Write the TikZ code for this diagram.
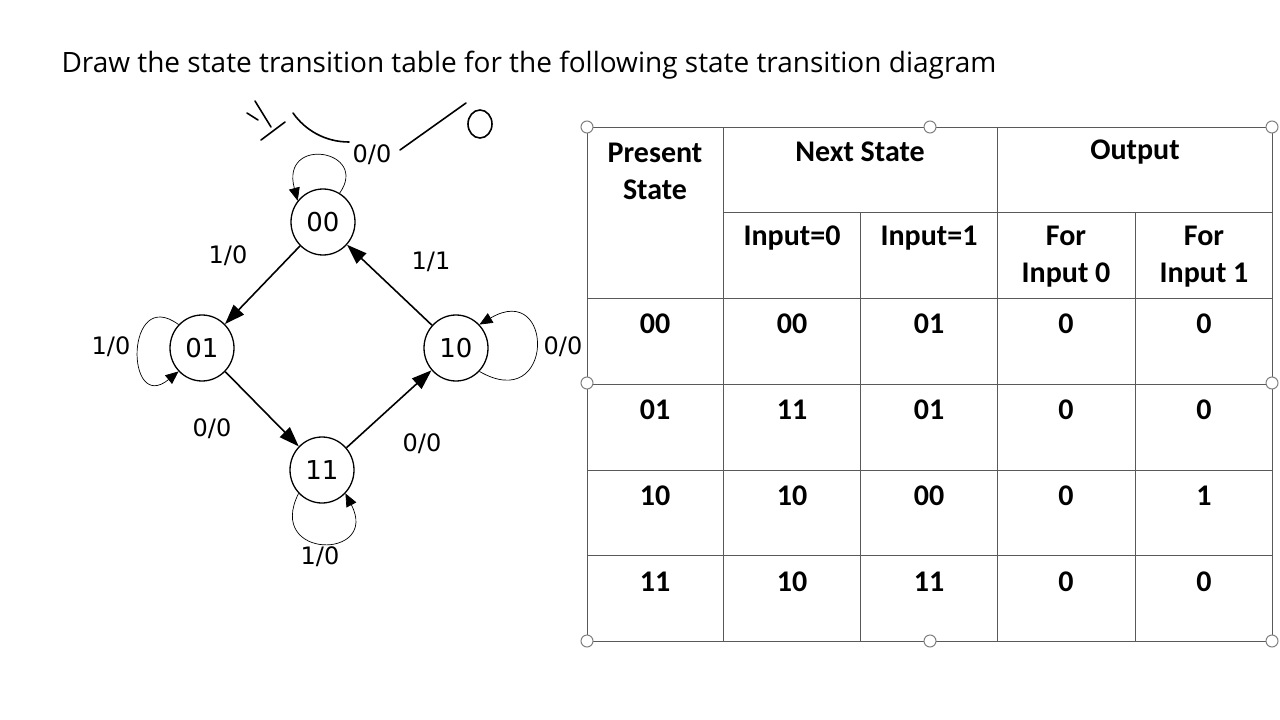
\documentclass[tikz,border=0pt]{standalone}
\usepackage{fontspec}
\setmainfont{Open Sans}
\newfontfamily\tabfont{Carlito}
\newfontfamily\diafont{DejaVu Sans}
\usetikzlibrary{arrows.meta,shapes.geometric}
\begin{document}
\begin{tikzpicture}[x=1pt,y=-1pt,
  st/.style={draw,line width=1.3pt,ellipse,minimum width=64pt,minimum height=66pt,inner sep=0pt,font=\diafont\fontsize{26}{26}\selectfont},
  tr/.style={line width=1.6pt,-{Triangle[length=20pt,width=14pt]}},
  lp/.style={line width=0.7pt,-{Triangle[length=13pt,width=11pt]}},
  lb/.style={font=\diafont\fontsize{24}{24}\selectfont},
  tc/.style={font=\tabfont\bfseries\fontsize{30}{37}\selectfont,align=center},
  hd/.style={draw=gray,fill=white,circle,inner sep=0pt,minimum size=12pt,line width=1pt},
  hand/.style={line width=1.6pt,line cap=round}]
\useasboundingbox (0,0) rectangle (1280,720);
\fill[white] (0,0) rectangle (1280,720);
\node[anchor=west,font=\fontsize{28}{32}\selectfont] (title) at (58,65) {Draw the state transition table for the following state transition diagram};
% states
\node[st] (s00) at (323,222) {00};
\node[st] (s01) at (202,348) {01};
\node[st] (s10) at (456,348) {10};
\node[st] (s11) at (322,470) {11};
\draw[tr] (s00) -- (s01);
\draw[tr] (s01) -- (s11);
\draw[tr] (s11) -- (s10);
\draw[tr] (s10) -- (s00);
\draw[lp] (s00.60) .. controls (370,150) and (280,135) .. (s00.140);
\draw[lp] (s01.135) .. controls (125,285) and (125,415) .. (s01.-135);
\draw[lp] (s10.-45) .. controls (555,415) and (555,280) .. (s10.45);
\draw[lp] (s11.-135) .. controls (265,560) and (380,560) .. (s11.-45);
\node[lb] (l1) at (228,256) {1/0};
\node[lb] (l2) at (431,262) {1/1};
\node[lb] (l3) at (212,429) {0/0};
\node[lb] (l4) at (422,444) {0/0};
\node[lb] (l5) at (111,347) {1/0};
\node[lb] (l6) at (563,347) {0/0};
\node[lb] (l7) at (320,557) {1/0};
\node[lb] (l8) at (372,155) {0/0};
% hand annotation
\draw[hand] (247,113) -- (258,120) (255,101) -- (271,127) (261,140) -- (285,122);
\draw[hand] (293,113) .. controls (305,130) and (325,142) .. (349,142);
\draw[hand] (400,150) -- (466,103);
\draw[hand] (480,124) ellipse (12pt and 14pt);
% table
\draw[gray!70!black,line width=1pt] (587,127) rectangle (1272,641);
\foreach \y in {298,384,470,555} \draw[gray!70!black] (587,\y) -- (1272,\y);
\draw[gray!70!black] (723,212) -- (1272,212);
\foreach \x in {723,997} \draw[gray!70!black] (\x,127) -- (\x,641);
\foreach \x in {860,1135} \draw[gray!70!black] (\x,212) -- (\x,641);
\node[tc] at (655,171) {Present\\State};
\node[tc] at (860,152) {Next State};
\node[tc] at (1135,152) {Output};
\node[tc] at (792,238) {Input=0};
\node[tc] at (929,238) {Input=1};
\node[tc] at (1066,257) {For\\Input 0};
\node[tc] at (1204,257) {For\\Input 1};
\node[tc] at (655,324) {00};\node[tc] at (792,324) {00};\node[tc] at (929,324) {01};\node[tc] at (1066,324) {0};\node[tc] at (1204,324) {0};
\node[tc] at (655,410) {01};\node[tc] at (792,410) {11};\node[tc] at (929,410) {01};\node[tc] at (1066,410) {0};\node[tc] at (1204,410) {0};
\node[tc] at (655,496) {10};\node[tc] at (792,496) {10};\node[tc] at (929,496) {00};\node[tc] at (1066,496) {0};\node[tc] at (1204,496) {1};
\node[tc] at (655,582) {11};\node[tc] at (792,582) {10};\node[tc] at (929,582) {11};\node[tc] at (1066,582) {0};\node[tc] at (1204,582) {0};
\foreach \p in {(587,127),(930,127),(1272,127),(587,383),(1272,383),(587,641),(930,641),(1272,641)} \node[hd] at \p {};
\end{tikzpicture}
\end{document}
